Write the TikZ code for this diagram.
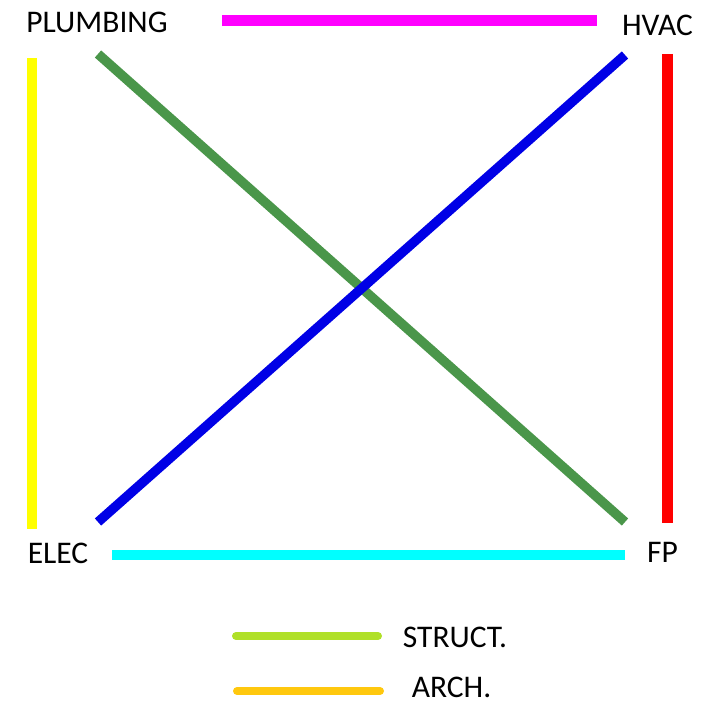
\documentclass[tikz,border=0pt]{standalone}
\usepackage{fontspec}
\setmainfont{Carlito}
\usepackage{tikz}
\usetikzlibrary{positioning}
\definecolor{plumbc}{RGB}{255,0,255}
\definecolor{elecc}{RGB}{255,255,0}
\definecolor{hvacc}{RGB}{255,0,0}
\definecolor{fpc}{RGB}{0,255,255}
\definecolor{crossg}{RGB}{74,150,74}
\definecolor{crossb}{RGB}{0,0,230}
\definecolor{structc}{RGB}{176,224,40}
\definecolor{archc}{RGB}{255,200,14}

\begin{document}
\begin{tikzpicture}[
x=1pt,y=-1pt,
Trade/.style={line width=10.5pt},
Diag/.style={line width=9.5pt},
Legend/.style={line width=8pt,line cap=round},
Label/.style={font=\fontsize{31.5}{38}\selectfont,anchor=base,inner sep=0pt}
]
\useasboundingbox (0,0) rectangle (721,719);

% corner labels
\node[Label] (plumbing) at (97,33) {PLUMBING};
\node[Label] (hvac) at (657.5,36) {HVAC};
\node[Label] (elec) at (58,563) {ELEC};
\node[Label] (fp) at (662.5,562) {FP};

% end points of the sides
\coordinate (P1) at (222,20.5);
\coordinate (P2) at (597,20.5);
\coordinate (E1) at (32,58);
\coordinate (E2) at (32,529);
\coordinate (H1) at (667.5,54);
\coordinate (H2) at (667.5,523);
\coordinate (F1) at (112,555);
\coordinate (F2) at (625,555);

% end points of the diagonals
\coordinate (G1) at (98,54);
\coordinate (G2) at (625,522);
\coordinate (B1) at (98,522);
\coordinate (B2) at (625,55);

\draw[Trade,plumbc] (P1)--(P2);
\draw[Trade,elecc] (E1)--(E2);
\draw[Trade,hvacc] (H1)--(H2);
\draw[Trade,fpc] (F1)--(F2);

\draw[Diag,crossg] (G1)--(G2);
\draw[Diag,crossb] (B1)--(B2);

% legend
\coordinate (S1) at (236,636);
\coordinate (S2) at (378,636);
\coordinate (A1) at (237,691);
\coordinate (A2) at (380,691);
\draw[Legend,structc] (S1)--(S2);
\draw[Legend,archc] (A1)--(A2);
\node[Label] (struct) at (455,647) {STRUCT.};
\node[Label] (arch) at (451.5,697) {ARCH.};

\end{tikzpicture}
\end{document}
